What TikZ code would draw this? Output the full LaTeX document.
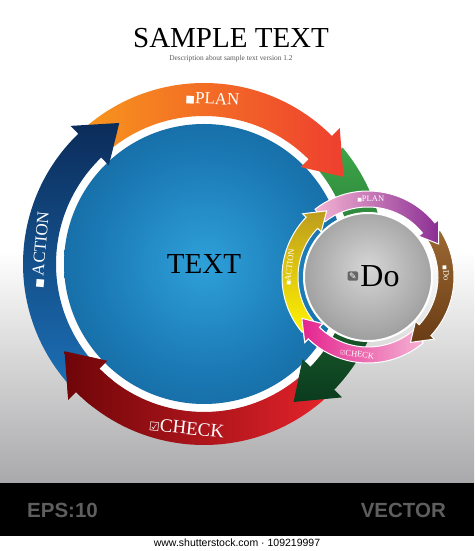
\documentclass[tikz,border=0pt]{standalone}
\usepackage{fontspec}
\setmainfont{Liberation Serif}
\newfontfamily\footfont{Liberation Sans}
\newfontfamily\symfont{DejaVu Sans}
\usetikzlibrary{positioning}

\definecolor{orangeA}{HTML}{F7941D}
\definecolor{orangeB}{HTML}{EE3F2F}
\definecolor{greenA}{HTML}{3DA548}
\definecolor{greenB}{HTML}{0A3B1E}
\definecolor{redA}{HTML}{E3232B}
\definecolor{redB}{HTML}{6E0508}
\definecolor{blueA}{HTML}{1C6FB5}
\definecolor{blueB}{HTML}{0B2C5A}
\definecolor{pinkA}{HTML}{F5B3D3}
\definecolor{pinkB}{HTML}{E0279A}
\definecolor{purpleB}{HTML}{8B2F94}
\definecolor{brownA}{HTML}{9A6832}
\definecolor{brownB}{HTML}{6A3C15}
\definecolor{magB}{HTML}{E4248F}
\definecolor{yellowA}{HTML}{FFF200}
\definecolor{yellowB}{HTML}{BE9C1E}
\definecolor{ballA}{HTML}{2EA0D9}
\definecolor{ballB}{HTML}{1A78B3}
\definecolor{ballC}{HTML}{0B4878}
\definecolor{greyA}{HTML}{D6D6D6}
\definecolor{greyB}{HTML}{A9A9A9}
\definecolor{greyC}{HTML}{666666}
\definecolor{floor}{HTML}{A9A9AB}
\definecolor{foottext}{HTML}{5E5E5E}

\pgfdeclareradialshading{bigball}{\pgfpoint{0bp}{0bp}}{color(0bp)=(ballA); color(20bp)=(ballB); color(50bp)=(ballC)}
\pgfdeclareradialshading{smallball}{\pgfpoint{0bp}{4bp}}{color(0bp)=(greyA); color(22bp)=(greyB); color(50bp)=(greyC)}

% ring arrow: [style]{centre}{inner r}{outer r}{from}{to}{head}{overhang}
\newcommand\ringarrow[8][]{%
  \path[shift={(#2)},#1] (#5:#4)
    arc[start angle=#5,end angle={#6+#7},radius=#4]
    -- ({#6+#7}:{#4+#8}) -- (#6:{(#3+#4)/2}) -- ({#6+#7}:{#3-#8})
    -- ({#6+#7}:#3) arc[start angle={#6+#7},end angle=#5,radius=#3] -- cycle;}

\begin{document}
\begin{tikzpicture}[x=1pt,y=1pt,
orangearrow/.style={left color=orangeA, right color=orangeB},
greenarrow/.style={top color=greenA, bottom color=greenB},
redarrow/.style={left color=redB, right color=redA},
bluearrow/.style={bottom color=blueA, top color=blueB},
pinkarrow/.style={left color=pinkA, middle color=pinkB, right color=purpleB, draw=white, line width=1pt},
brownarrow/.style={top color=brownA, bottom color=brownB, draw=white, line width=1pt},
magarrow/.style={left color=magB, right color=pinkA, draw=white, line width=1pt},
yellowarrow/.style={bottom color=yellowA, top color=yellowB, draw=white, line width=1pt},
biglabel/.style={text=white, inner sep=0, font=\fontsize{17}{17}\selectfont},
smalllabel/.style={text=white, inner sep=0, font=\fontsize{8.5}{8.5}\selectfont},
foot/.style={text=foottext, inner sep=0, font=\footfont\bfseries\fontsize{20.5}{20.5}\selectfont},
]
\useasboundingbox (0,0) rectangle (474,551);

%Background
\fill[white] (0,0) rectangle (474,551);
\shade[top color=white, bottom color=floor] (0,68) rectangle (474,300);
\fill[black] (0,15) rectangle (474,68);

%Title
\node[inner sep=0, font=\fontsize{29}{29}\selectfont] (title) at (231,513) {SAMPLE TEXT};
\node[inner sep=0, text=black!65, font=\fontsize{7.4}{7.4}\selectfont, below=7pt of title] (desc) {Description about sample text version 1.2};

%Big cycle
\coordinate (big) at (204,287);
\node[circle, fill=white, minimum size=296pt, inner sep=0] (rim) at (big) {};
\node[circle, shading=bigball, minimum size=280pt, inner sep=0, font=\fontsize{29}{29}\selectfont] (ball) at (big) {TEXT};

\ringarrow[redarrow]{big}{148}{181}{-48}{-148}{13}{11}
\ringarrow[greenarrow]{big}{148}{181}{40}{-57}{13}{11}
\ringarrow[orangearrow]{big}{148}{181}{130}{32}{13}{11}
\ringarrow[bluearrow]{big}{148}{181}{222}{121}{13}{11}
\begin{scope}
\clip[shift={(big)}] (0,0) -- (200:200) arc[start angle=200,end angle=232,radius=200] -- cycle;
\ringarrow[redarrow]{big}{148}{181}{-48}{-148}{13}{11}
\end{scope}

\node[biglabel, rotate=-3] (plan) at ([shift={(87:165)}]big) {{\symfont\fontsize{10}{10}\selectfont ■}PLAN};
\node[biglabel, rotate=-6, font=\fontsize{19}{19}\selectfont] (check) at ([shift={(264:165)}]big) {{\symfont\fontsize{12}{12}\selectfont ☑}CHECK};
\node[biglabel, rotate=85] (action) at ([shift={(175:164)}]big) {{\symfont\fontsize{10}{10}\selectfont ■}\,ACTION};

%Small cycle
\coordinate (small) at (368,274);
\node[circle, shading=smallball, draw=white, line width=2pt, minimum size=128pt, inner sep=0] (sphere) at (small) {};

\ringarrow[magarrow]{small}{70}{86}{-50}{-148}{14}{5}
\ringarrow[brownarrow]{small}{70}{86}{33}{-57}{14}{5}
\ringarrow[pinkarrow]{small}{70}{86}{128}{25}{14}{5}
\ringarrow[yellowarrow]{small}{70}{86}{220}{122}{14}{5}
\begin{scope}
\clip[shift={(small)}] (0,0) -- (200:110) arc[start angle=200,end angle=235,radius=110] -- cycle;
\ringarrow[magarrow]{small}{70}{86}{-50}{-148}{14}{5}
\end{scope}

\node[smalllabel] (splan) at ([shift={(88:78)}]small) {{\symfont\fontsize{5}{5}\selectfont ■}PLAN};
\node[smalllabel, rotate=-87] (sdo) at ([shift={(3:78)}]small) {{\symfont\fontsize{5}{5}\selectfont ■}Do};
\node[smalllabel, rotate=-8] (scheck) at ([shift={(262:78)}]small) {{\symfont\fontsize{6}{6}\selectfont ☑}CHECK};
\node[smalllabel, rotate=83] (saction) at ([shift={(173:79)}]small) {{\symfont\fontsize{5}{5}\selectfont ■}ACTION};

\node[inner sep=0, font=\fontsize{32}{32}\selectfont] (do) at (380,275) {Do};
\node[fill=black!60, rounded corners=2pt, text=white, inner sep=1.5pt, font=\symfont\fontsize{9}{9}\selectfont, left=2pt of do] (pen) {✎};

%Footer
\node[foot, anchor=west] (eps) at (27,41) {EPS:10};
\node[foot, anchor=east] (vec) at (446,41) {VECTOR};
\node[inner sep=0, font=\footfont\fontsize{10.5}{10.5}\selectfont] (url) at (237,8) {www.shutterstock.com · 109219997};
\end{tikzpicture}
\end{document}
